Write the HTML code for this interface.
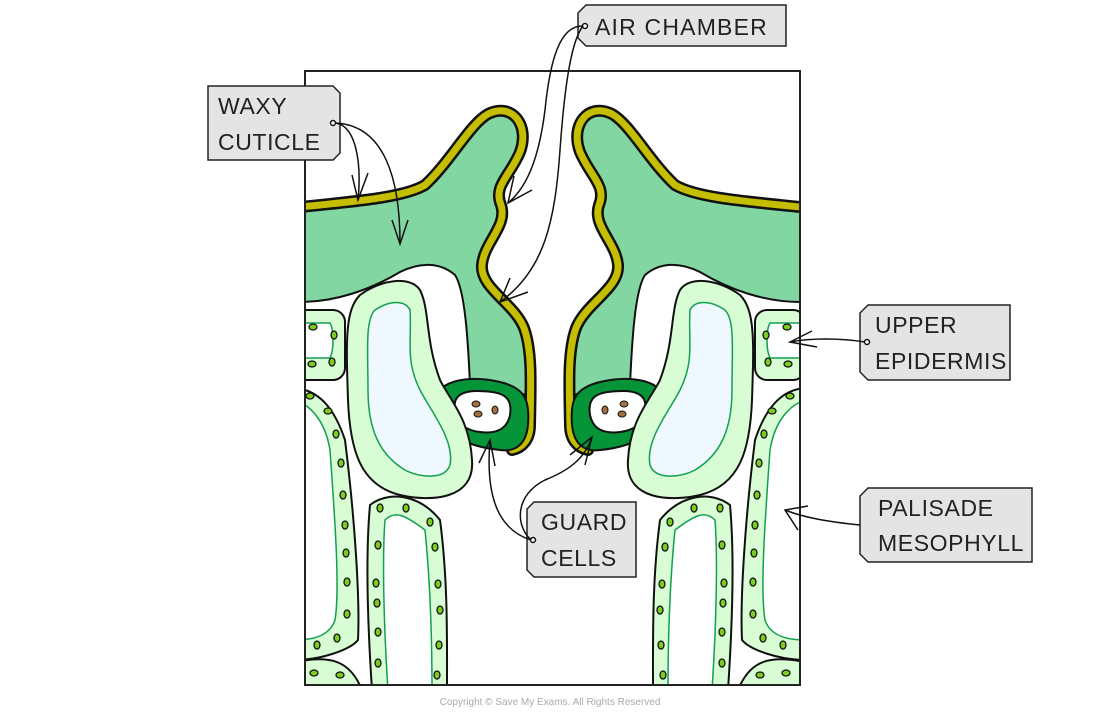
<!DOCTYPE html>
<html><head><meta charset="utf-8"><style>
html,body{margin:0;padding:0;background:#fff;}
svg{display:block;}
text{font-family:"Liberation Sans",sans-serif;}
</style></head><body>
<svg width="1100" height="714" viewBox="0 0 1100 714" xmlns="http://www.w3.org/2000/svg">
<defs>
<clipPath id="frame"><rect x="305" y="71" width="495" height="614"/></clipPath>
<g id="half" stroke="#111" stroke-width="2">
  <path d="M300,210 C360,205 405,200 425,188 C450,165 470,128 488,117 C510,105 525,125 517,150 C507,175 490,185 498,205 C505,225 480,240 478,265 C476,290 510,305 520,330 C528,350 528,380 528,395 L470,385 C468,340 465,290 455,275 C440,262 420,262 400,272 C370,290 335,302 300,302 Z" fill="#82d6a2"/>
  <path d="M300,207 C360,201 405,197 425,185 C450,162 470,124 488,114 C512,102 530,125 520,152 C510,176 493,186 501,205 C508,226 484,242 482,265 C480,288 514,303 524,328 C532,350 531,380 530,425 C530,440 522,448 512,450" fill="none" stroke="#111" stroke-width="12" stroke-linecap="round"/>
  <path d="M300,207 C360,201 405,197 425,185 C450,162 470,124 488,114 C512,102 530,125 520,152 C510,176 493,186 501,205 C508,226 484,242 482,265 C480,288 514,303 524,328 C532,350 531,380 530,425 C530,440 522,448 512,450" fill="none" stroke="#c4bd00" stroke-width="7" stroke-linecap="round"/>
  <path d="M436,398 C440,380 470,375 500,382 C525,388 530,400 528,425 C526,445 515,452 500,450 C470,447 435,435 436,398 Z" fill="#069439"/>
  <path d="M455,402 C458,390 475,390 492,392 C508,394 512,402 510,415 C507,430 495,434 480,432 C463,430 452,420 455,402 Z" fill="#fff"/>
  <g fill="#a07040" stroke-width="1"><ellipse cx="476" cy="404" rx="4" ry="3"/><ellipse cx="478" cy="414" rx="4" ry="3"/><ellipse cx="495" cy="410" rx="3" ry="4"/></g>
  <path d="M360,295 C380,280 410,275 420,290 C430,310 425,340 440,380 C450,400 470,420 472,460 C475,500 430,502 400,495 C360,485 350,450 348,400 C346,340 345,310 360,295 Z" fill="#d8fcd4"/>
  <path d="M375,310 C390,300 405,300 410,310 C412,340 405,360 420,390 C430,410 455,440 450,465 C445,480 420,478 405,470 C380,455 368,430 368,390 C368,350 365,320 375,310 Z" fill="#f0f8ff" stroke="#10a050" stroke-width="1.5"/>
  <rect x="295" y="310" width="50" height="70" rx="12" fill="#d8fcd4"/>
  <path d="M300,323 L330,323 C334,330 334,350 330,358 L300,358" fill="#fff" stroke="#10a050" stroke-width="1.5"/>
  <path d="M295,388 C320,390 335,410 345,440 C355,520 360,600 358,640 C350,650 320,660 295,660 Z" fill="#d8fcd4"/>
  <path d="M295,400 C310,405 325,420 330,450 C335,520 340,590 335,620 C330,635 315,640 295,640" fill="#fff" stroke="#10a050" stroke-width="1.5"/>
  <path d="M370,505 C390,490 420,495 440,520 C448,580 447,640 447,690 L372,690 C368,630 365,560 370,505 Z" fill="#d8fcd4"/>
  <path d="M385,520 C395,510 405,515 425,530 C430,580 432,640 432,690 L388,690 C384,630 382,560 385,520 Z" fill="#fff" stroke="#10a050" stroke-width="1.5"/>
  <path d="M295,662 C330,655 350,660 362,690 L295,690 Z" fill="#d8fcd4"/>
  <g fill="#7ccc20" stroke-width="1.3">
    <ellipse cx="313" cy="327" rx="4" ry="3"/><ellipse cx="334" cy="335" rx="3" ry="4"/><ellipse cx="312" cy="364" rx="4" ry="3"/><ellipse cx="332" cy="362" rx="3" ry="4"/>
    <ellipse cx="310" cy="396" rx="4" ry="3"/><ellipse cx="328" cy="411" rx="4" ry="3"/><ellipse cx="336" cy="434" rx="3" ry="4"/><ellipse cx="341" cy="463" rx="3" ry="4"/><ellipse cx="343" cy="495" rx="3" ry="4"/><ellipse cx="345" cy="525" rx="3" ry="4"/><ellipse cx="346" cy="553" rx="3" ry="4"/><ellipse cx="347" cy="582" rx="3" ry="4"/><ellipse cx="347" cy="614" rx="3" ry="4"/><ellipse cx="337" cy="638" rx="3" ry="4"/><ellipse cx="317" cy="645" rx="3" ry="4"/>
    <ellipse cx="314" cy="673" rx="4" ry="3"/><ellipse cx="340" cy="675" rx="4" ry="3"/>
    <ellipse cx="380" cy="508" rx="3" ry="4"/><ellipse cx="406" cy="508" rx="3" ry="4"/><ellipse cx="430" cy="522" rx="3" ry="4"/><ellipse cx="378" cy="545" rx="3" ry="4"/><ellipse cx="435" cy="547" rx="3" ry="4"/><ellipse cx="376" cy="583" rx="3" ry="4"/><ellipse cx="438" cy="584" rx="3" ry="4"/><ellipse cx="377" cy="603" rx="3" ry="4"/><ellipse cx="440" cy="610" rx="3" ry="4"/><ellipse cx="378" cy="632" rx="3" ry="4"/><ellipse cx="439" cy="645" rx="3" ry="4"/><ellipse cx="378" cy="663" rx="3" ry="4"/><ellipse cx="437" cy="675" rx="3" ry="4"/>
  </g>
</g>
</defs>
<g clip-path="url(#frame)">
  <use href="#half"/>
  <use href="#half" transform="translate(1100,0) scale(-1,1)"/>
</g>
<rect x="305" y="71" width="495" height="614" fill="none" stroke="#222" stroke-width="2"/>
<text x="550" y="705" font-size="10" fill="#aaa" text-anchor="middle">Copyright © Save My Exams. All Rights Reserved</text>

<g stroke="#222" stroke-width="1.5" fill="#e4e4e4">
  <path d="M208,86 L333,86 L340,93 L340,153 L333,160 L208,160 Z"/>
  <path d="M586,5 L786,5 L786,46 L586,46 L578,38 L578,13 Z"/>
  <path d="M868,305 L1010,305 L1010,380 L868,380 L860,372 L860,313 Z"/>
  <path d="M868,488 L1032,488 L1032,562 L868,562 L860,554 L860,496 Z"/>
  <path d="M534,502 L636,502 L636,577 L534,577 L527,570 L527,509 Z"/>
</g>
<g font-size="23" fill="#222" letter-spacing="0.6">
  <text x="218" y="114">WAXY</text><text x="218" y="150">CUTICLE</text>
  <text x="595" y="35" letter-spacing="1.2">AIR  CHAMBER</text>
  <text x="875" y="333">UPPER</text><text x="875" y="369">EPIDERMIS</text>
  <text x="878" y="516">PALISADE</text><text x="878" y="551">MESOPHYLL</text>
  <text x="541" y="530">GUARD</text><text x="541" y="566">CELLS</text>
</g>
<g fill="none" stroke="#111" stroke-width="1.5">
  <circle cx="333" cy="123" r="2.5" fill="#fff"/>
  <path d="M335,123 C355,125 362,160 358,200"/><path d="M352,175 L358,200 L368,173"/>
  <path d="M335,123 C385,125 400,180 400,243"/><path d="M392,220 L400,244 L408,220"/>
  <circle cx="585" cy="26" r="2.5" fill="#fff"/>
  <path d="M583,26 C560,25 550,60 545,110 C540,150 530,185 508,203"/><path d="M514,176 L508,203 L532,190"/>
  <path d="M583,26 C572,40 565,80 560,150 C555,220 545,270 500,302"/><path d="M510,278 L500,302 L528,292"/>
  <circle cx="867" cy="342" r="2.5" fill="#fff"/>
  <path d="M865,342 C840,338 810,338 790,342"/><path d="M812,331 L790,342 L817,347"/>
  <path d="M860,525 C830,522 805,518 785,510"/><path d="M798,530 L785,510 L808,506"/>
  <circle cx="533" cy="540" r="2.5" fill="#fff"/>
  <path d="M531,540 C500,530 485,500 490,440"/><path d="M479,463 L490,440 L495,466"/>
  <path d="M531,540 C515,525 515,495 545,480 C570,470 585,458 592,437"/><path d="M570,455 L592,437 L585,465"/>
</g>
</svg>
</body></html>
